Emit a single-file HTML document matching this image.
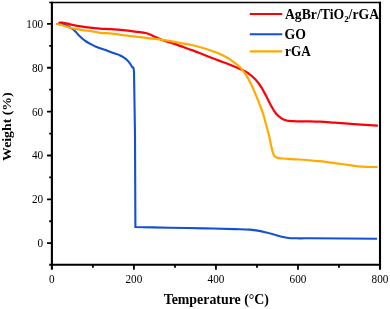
<!DOCTYPE html>
<html><head><meta charset="utf-8"><title>TGA</title>
<style>
html,body{margin:0;padding:0;background:#fff;}
svg{display:block}
text{font-family:"Liberation Serif",serif;fill:#000}
.b text{font-weight:bold}
</style></head><body>
<svg width="390" height="309" viewBox="0 0 390 309">
<rect width="390" height="309" fill="#fff"/>
<path d="M51.9,1.65 V269.85 M380.0,1.65 V269.85" stroke="#000" stroke-width="2.1" fill="none"/>
<path d="M49.20,2.45 H381.05" stroke="#000" stroke-width="1.6" fill="none"/>
<path d="M49.20,264.85 H381.05" stroke="#000" stroke-width="2" fill="none"/>
<path d="M92.91,264.85 v2.8 M133.93,264.85 v5.0 M174.94,264.85 v2.8 M215.95,264.85 v5.0 M256.96,264.85 v2.8 M297.97,264.85 v5.0 M338.99,264.85 v2.8 M51.9,243.20 h-4.85 M51.9,221.27 h-2.7 M51.9,199.34 h-4.85 M51.9,177.41 h-2.7 M51.9,155.48 h-4.85 M51.9,133.55 h-2.7 M51.9,111.62 h-4.85 M51.9,89.69 h-2.7 M51.9,67.76 h-4.85 M51.9,45.83 h-2.7 M51.9,23.90 h-4.85" stroke="#000" stroke-width="1.8" fill="none"/>
<path d="M56.50,24.00 C58.33,24.10 60.17,23.97 62.00,24.30 C64.00,24.66 66.00,25.22 68.00,26.20 C69.50,26.94 71.00,27.82 72.50,29.00 C73.47,29.76 74.43,30.65 75.40,31.60 C76.60,32.78 77.80,34.30 79.00,35.50 C80.37,36.86 81.73,38.10 83.10,39.20 C84.40,40.25 85.70,41.16 87.00,42.00 C88.27,42.82 89.53,43.51 90.80,44.20 C92.03,44.87 93.27,45.53 94.50,46.10 C95.83,46.71 97.17,47.20 98.50,47.70 C101.07,48.67 103.63,49.34 106.20,50.30 C107.47,50.78 108.73,51.33 110.00,51.80 C111.63,52.41 113.27,52.93 114.90,53.50 C116.50,54.06 118.10,54.45 119.70,55.20 C121.00,55.81 122.30,56.53 123.60,57.40 C124.73,58.16 125.87,58.88 127.00,60.00 C127.97,60.95 128.93,62.03 129.90,63.40 C130.70,64.54 131.50,65.91 132.30,67.30 C132.80,68.17 133.30,65.48 133.80,70.00 C133.87,70.60 133.93,71.33 134.00,72.00 L135,135 L135.4,227 L135.40,227.00 C146.93,227.23 158.47,227.47 170.00,227.70 C181.67,227.93 193.33,228.15 205.00,228.40 C215.00,228.62 225.00,228.80 235.00,229.10 C240.00,229.25 245.00,229.11 250.00,229.60 C252.57,229.85 255.13,230.15 257.70,230.60 C260.27,231.05 262.83,231.68 265.40,232.30 C267.97,232.92 270.53,233.60 273.10,234.30 C275.67,235.00 278.23,235.87 280.80,236.50 C282.83,237.00 284.87,237.50 286.90,237.80 C288.20,237.99 289.50,238.11 290.80,238.20 C292.53,238.32 294.27,238.28 296.00,238.30 C300.67,238.37 305.33,238.29 310.00,238.30 C332.33,238.33 354.67,238.60 377.00,238.75" stroke="#1450d4" stroke-width="2.1" fill="none" stroke-linejoin="miter"/>
<path d="M58.50,22.90 C59.17,22.77 59.83,22.54 60.50,22.50 C61.33,22.45 62.17,22.68 63.00,22.80 C65.33,23.14 67.67,23.83 70.00,24.30 C73.60,25.03 77.20,25.72 80.80,26.30 C83.87,26.80 86.93,27.23 90.00,27.60 C93.33,28.01 96.67,28.33 100.00,28.60 C103.33,28.87 106.67,28.98 110.00,29.20 C114.33,29.49 118.67,29.78 123.00,30.20 C127.00,30.59 131.00,31.09 135.00,31.60 C138.20,32.01 141.40,32.23 144.60,32.90 C145.73,33.14 146.87,33.34 148.00,33.70 C148.93,34.00 149.87,34.40 150.80,34.80 C152.20,35.40 153.60,36.17 155.00,36.80 C156.67,37.55 158.33,38.13 160.00,38.90 C160.77,39.25 161.53,39.67 162.30,40.00 C164.20,40.83 166.10,41.29 168.00,41.90 C170.20,42.60 172.40,43.15 174.60,43.90 C176.40,44.51 178.20,45.24 180.00,45.90 C184.27,47.46 188.53,48.80 192.80,50.40 C197.07,52.00 201.33,53.84 205.60,55.50 C209.90,57.17 214.20,58.78 218.50,60.40 C222.33,61.84 226.17,63.17 230.00,64.70 C233.33,66.03 236.67,67.35 240.00,68.90 C242.60,70.11 245.20,71.00 247.80,72.80 C250.37,74.58 252.93,76.72 255.50,79.60 C257.47,81.81 259.43,84.16 261.40,87.30 C263.00,89.85 264.60,93.05 266.20,96.10 C267.83,99.21 269.47,102.88 271.10,105.80 C272.70,108.66 274.30,111.51 275.90,113.50 C277.53,115.53 279.17,116.67 280.80,117.80 C282.73,119.13 284.67,119.93 286.60,120.50 C288.53,121.07 290.47,121.06 292.40,121.20 C294.93,121.39 297.47,121.27 300.00,121.30 C303.33,121.34 306.67,121.33 310.00,121.40 C313.33,121.47 316.67,121.55 320.00,121.70 C324.83,121.92 329.67,122.36 334.50,122.70 C340.97,123.15 347.43,123.66 353.90,124.10 C361.90,124.65 369.90,125.13 377.90,125.65" stroke="#fd0008" stroke-width="2.2" fill="none" stroke-linejoin="round"/>
<path d="M56.50,24.00 C58.33,24.40 60.17,24.72 62.00,25.20 C64.67,25.90 67.33,27.09 70.00,27.80 C73.60,28.76 77.20,29.20 80.80,29.80 C85.93,30.66 91.07,30.99 96.20,32.00 C97.47,32.25 98.73,32.59 100.00,32.80 C103.33,33.36 106.67,33.10 110.00,33.40 C114.33,33.79 118.67,34.56 123.00,35.10 C130.73,36.07 138.47,36.80 146.20,37.80 C147.47,37.96 148.73,38.14 150.00,38.30 C154.10,38.83 158.20,39.22 162.30,39.80 C166.40,40.38 170.50,41.02 174.60,41.80 C176.40,42.14 178.20,42.54 180.00,42.90 C184.27,43.75 188.53,44.33 192.80,45.30 C197.07,46.27 201.33,47.37 205.60,48.70 C209.03,49.77 212.47,50.89 215.90,52.30 C218.47,53.35 221.03,54.48 223.60,55.80 C225.73,56.90 227.87,58.01 230.00,59.40 C233.33,61.57 236.67,63.64 240.00,67.30 C241.93,69.42 243.87,71.71 245.80,74.70 C247.43,77.23 249.07,80.13 250.70,83.40 C252.30,86.61 253.90,90.31 255.50,94.10 C256.80,97.18 258.10,100.40 259.40,103.80 C260.70,107.20 262.00,110.28 263.30,114.50 C264.27,117.64 265.23,121.46 266.20,125.00 C267.07,128.17 267.93,130.94 268.80,134.60 C269.60,137.98 270.40,142.44 271.20,145.90 C271.73,148.20 272.27,150.73 272.80,152.40 C273.33,154.07 273.87,155.06 274.40,155.90 C275.20,157.16 276.00,157.08 276.80,157.50 C278.70,158.49 280.60,158.23 282.50,158.50 C286.83,159.11 291.17,159.03 295.50,159.30 C299.27,159.53 303.03,159.69 306.80,160.00 C309.53,160.23 312.27,160.54 315.00,160.80 C318.50,161.14 322.00,161.40 325.50,161.80 C329.77,162.29 334.03,163.01 338.30,163.60 C342.20,164.14 346.10,164.70 350.00,165.20 C353.90,165.70 357.80,166.30 361.70,166.60 C364.47,166.82 367.23,166.95 370.00,167.00 C372.57,167.05 375.13,166.97 377.70,166.95" stroke="#ffaa00" stroke-width="2.2" fill="none" stroke-linejoin="round"/>
<path d="M249.8,14.0 H282.3" stroke="#fd0008" stroke-width="2.1"/>
<path d="M249.8,34.2 H282.3" stroke="#1450d4" stroke-width="2.1"/>
<path d="M249.8,51.4 H282.3" stroke="#ffaa00" stroke-width="2.1"/>
<g class="b" font-size="14">
<text x="284.9" y="18.5" textLength="94.2" lengthAdjust="spacingAndGlyphs">AgBr/TiO<tspan font-size="9" dy="3">2</tspan><tspan dy="-3">/rGA</tspan></text>
<text x="284.6" y="39.3" textLength="21.4" lengthAdjust="spacingAndGlyphs">GO</text>
<text x="285.1" y="55.8" textLength="25.6" lengthAdjust="spacingAndGlyphs">rGA</text>
</g>
<g class="r" font-size="11.9" text-anchor="end">
<text x="43.1" y="247.1" textLength="5.6" lengthAdjust="spacingAndGlyphs">0</text>
<text x="43.1" y="203.2" textLength="11.2" lengthAdjust="spacingAndGlyphs">20</text>
<text x="43.1" y="159.4" textLength="11.2" lengthAdjust="spacingAndGlyphs">40</text>
<text x="43.1" y="115.5" textLength="11.2" lengthAdjust="spacingAndGlyphs">60</text>
<text x="43.1" y="71.7" textLength="11.2" lengthAdjust="spacingAndGlyphs">80</text>
<text x="43.1" y="27.8" textLength="16.8" lengthAdjust="spacingAndGlyphs">100</text>
</g>
<g class="r" font-size="11.9" text-anchor="middle">
<text x="51.9" y="282.6" textLength="5.6" lengthAdjust="spacingAndGlyphs">0</text>
<text x="133.9" y="282.6" textLength="16.8" lengthAdjust="spacingAndGlyphs">200</text>
<text x="216.0" y="282.6" textLength="16.8" lengthAdjust="spacingAndGlyphs">400</text>
<text x="298.0" y="282.6" textLength="16.8" lengthAdjust="spacingAndGlyphs">600</text>
<text x="380.0" y="282.6" textLength="16.8" lengthAdjust="spacingAndGlyphs">800</text>
</g>
<g class="b">
<text x="163.7" y="303.7" font-size="13.6" textLength="105.3" lengthAdjust="spacingAndGlyphs">Temperature (°C)</text>
<text transform="translate(11.1,160.9) rotate(-90)" font-size="12.7" textLength="68.6" lengthAdjust="spacingAndGlyphs">Weight (%)</text>
</g>
</svg>
</body></html>
